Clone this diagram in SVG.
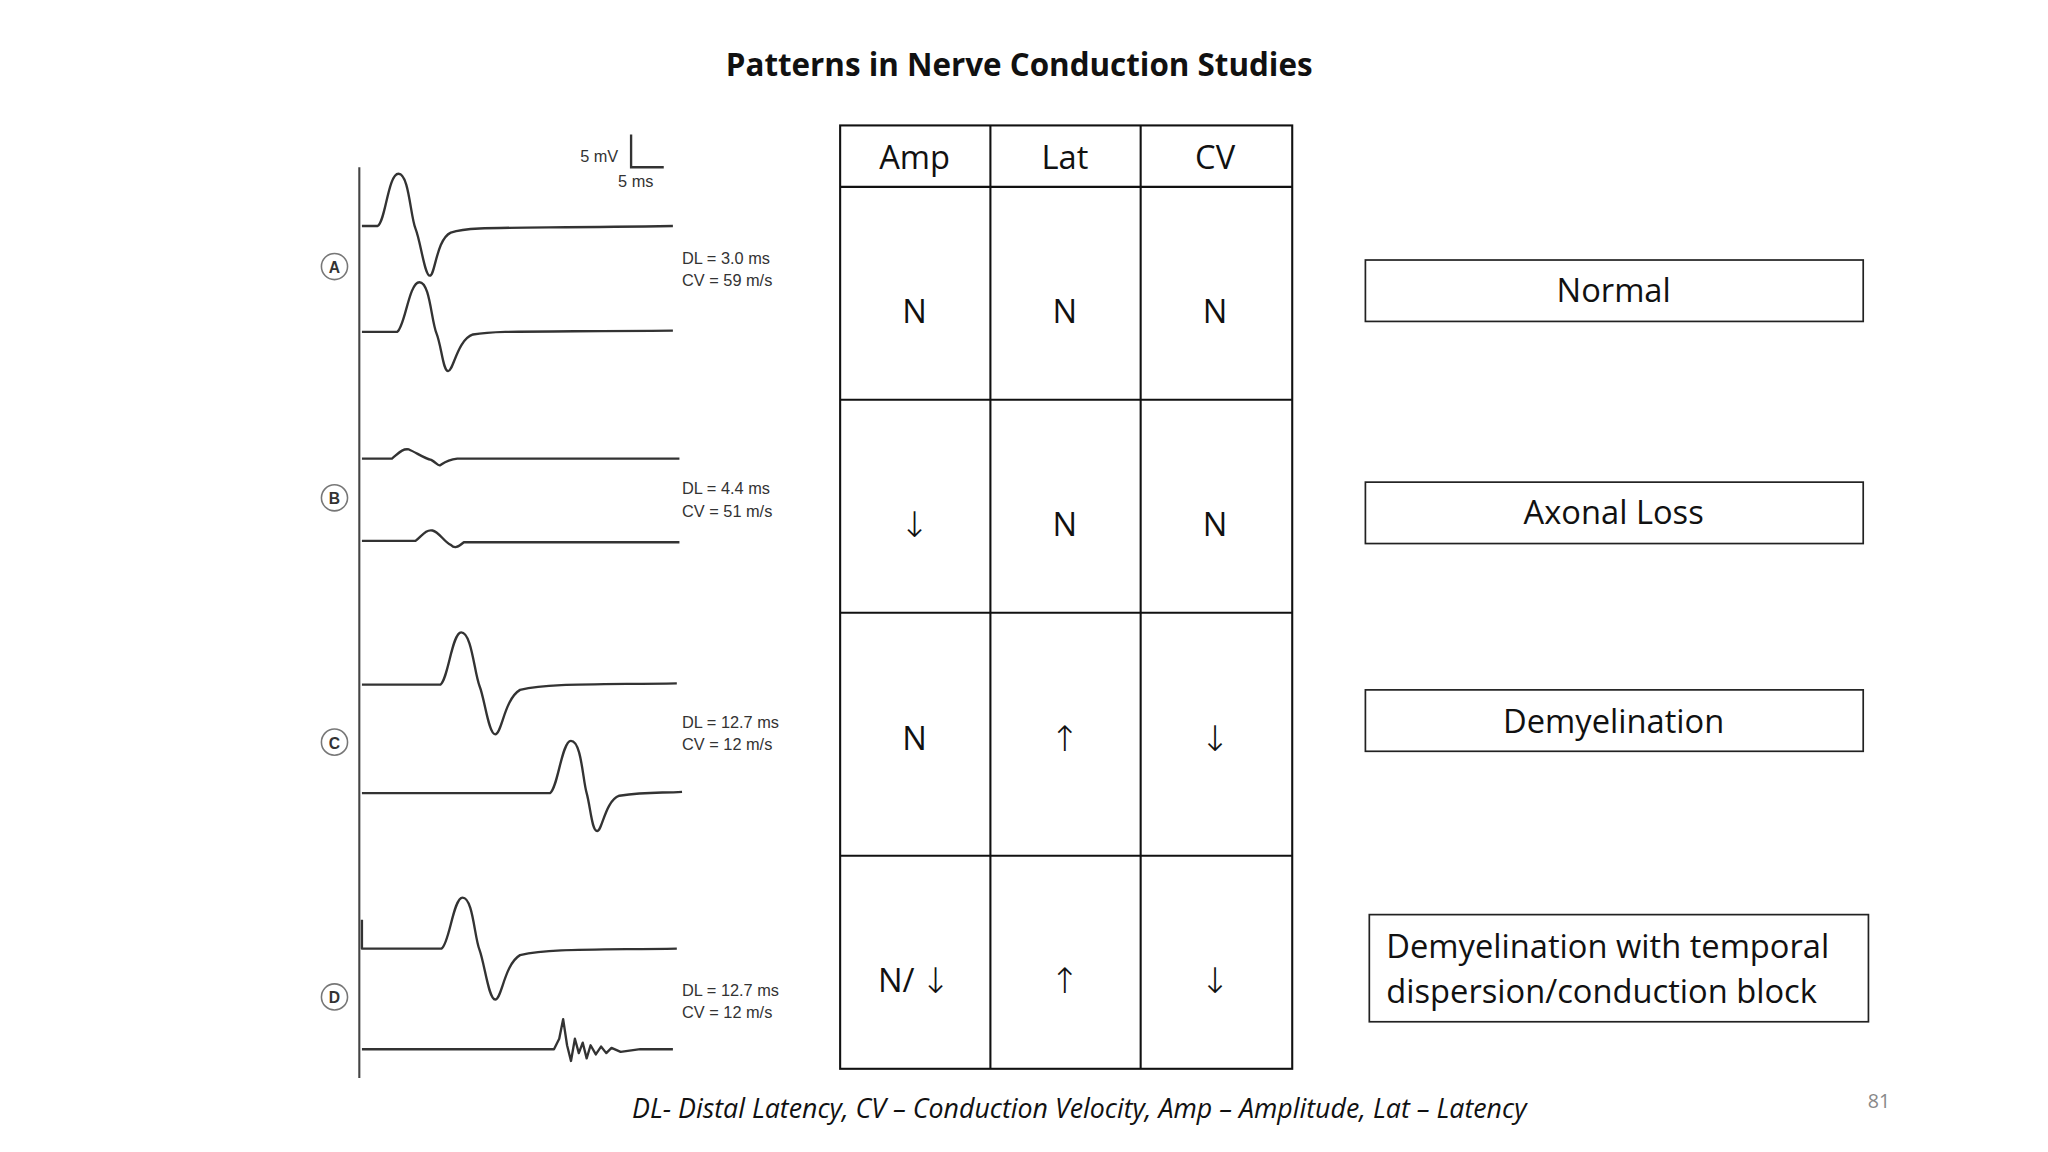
<svg xmlns="http://www.w3.org/2000/svg" width="2048" height="1152" viewBox="0 0 2048 1152">
<style>
.tr{fill:none;stroke:#333;stroke-width:1.8;stroke-linejoin:round}
.sm{font-family:"Liberation Sans",Arial,sans-serif;font-size:12.5px;fill:#333}
.cl{fill:#fff;stroke:#777;stroke-width:1.2}
.ct{font-family:"Liberation Sans",Arial,sans-serif;font-size:12px;font-weight:bold;fill:#333;text-anchor:middle}
.tb{font-family:"Open Sans","Liberation Sans",sans-serif;font-size:25px;fill:#111;text-anchor:middle}
.ar{font-family:"DejaVu Sans",sans-serif;font-size:27px;fill:#111;text-anchor:middle;font-weight:200}
.bx{fill:#fff;stroke:#222;stroke-width:1.3}
.gl{stroke:#111;stroke-width:1.6}
</style>
<rect width="2048" height="1152" fill="#fff"/>
<g transform="scale(1.3066)">
<text x="780" y="58" text-anchor="middle" font-family="Open Sans,Liberation Sans,sans-serif" font-weight="bold" font-size="24" fill="#111">Patterns in Nerve Conduction Studies</text>
<g id="waveforms">
<line x1="275" y1="128" x2="275" y2="825" stroke="#444" stroke-width="1.6"/>
<path d="M483 103 V128 H508" fill="none" stroke="#333" stroke-width="1.8"/>
<text x="444" y="124" class="sm">5 mV</text><text x="473" y="143" class="sm">5 ms</text>
<path class="tr" d="M277 173 H289 C295 170 297 133 305 133 C313 133 314 165 318 175 C322 185 325 211 329 211 C333 211 334 183 345 178 C360 173 380 175 515 173"/>
<path class="tr" d="M277 254 H304 C310 250 313 216 321 216 C329 216 330 245 334 255 C338 265 339 284 343 284 C347 284 350 260 362 256 C380 253 400 254 515 253"/>
<path class="tr" d="M277 351 H300 C305 347 308 343 313 344 C318 346 325 351 330 352 C334 354 335 357 337 356 C340 354 342 352 350 351 H520"/>
<path class="tr" d="M277 414 H318 C323 410 326 405 331 406 C336 407 340 415 345 417 C348 420 350 419 355 415 H520"/>
<path class="tr" d="M277 524 H337 C343 520 346 484 353 484 C361 484 363 515 367 525 C371 535 374 562 379 562 C384 562 386 535 398 528 C420 523 450 524 518 523"/>
<path class="tr" d="M277 607 H421 C427 603 430 567 437 567 C445 567 446 597 449 607 C452 618 453 636 457 636 C461 636 463 613 474 609 C495 606 505 607 522 606"/>
<path class="tr" d="M277 704 V726 H338 C344 722 347 687 354 687 C362 687 363 717 367 727 C371 738 374 765 379 765 C384 765 386 738 398 731 C420 726 450 727 518 726"/>
<path class="tr" d="M277 803 H424 L428 795 L431 780 L434 800 L437 812 L440 795 L443 806 L446 798 L449 810 L452 800 L456 807 L460 801 L464 806 L468 802 L475 805 L490 803 H515"/>
<text x="522" y="202" class="sm">DL = 3.0 ms</text><text x="522" y="219" class="sm">CV = 59 m/s</text>
<text x="522" y="378" class="sm">DL = 4.4 ms</text><text x="522" y="396" class="sm">CV = 51 m/s</text>
<text x="522" y="557" class="sm">DL = 12.7 ms</text><text x="522" y="574" class="sm">CV = 12 m/s</text>
<text x="522" y="762" class="sm">DL = 12.7 ms</text><text x="522" y="779" class="sm">CV = 12 m/s</text>
<circle class="cl" cx="256" cy="204" r="10"/><text x="256" y="209" class="ct">A</text>
<circle class="cl" cx="256" cy="381" r="10"/><text x="256" y="386" class="ct">B</text>
<circle class="cl" cx="256" cy="568" r="10"/><text x="256" y="573" class="ct">C</text>
<circle class="cl" cx="256" cy="763" r="10"/><text x="256" y="768" class="ct">D</text>
</g>
<g id="table">
<rect x="643" y="96" width="346" height="722" fill="none" class="gl"/>
<line class="gl" x1="758" y1="96" x2="758" y2="818"/><line class="gl" x1="873" y1="96" x2="873" y2="818"/>
<line class="gl" x1="643" y1="143" x2="989" y2="143"/><line class="gl" x1="643" y1="306" x2="989" y2="306"/>
<line class="gl" x1="643" y1="469" x2="989" y2="469"/><line class="gl" x1="643" y1="655" x2="989" y2="655"/>
<text x="700" y="129" class="tb">Amp</text><text x="815" y="129" class="tb">Lat</text><text x="930" y="129" class="tb">CV</text>
<text x="700" y="247" class="tb">N</text><text x="815" y="247" class="tb">N</text><text x="930" y="247" class="tb">N</text>
<text x="700" y="411" class="ar">↓</text><text x="815" y="410" class="tb">N</text><text x="930" y="410" class="tb">N</text>
<text x="700" y="574" class="tb">N</text><text x="815" y="575" class="ar">↑</text><text x="930" y="575" class="ar">↓</text>
<text x="686" y="759" class="tb">N/</text><text x="716" y="760" class="ar">↓</text><text x="815" y="760" class="ar">↑</text><text x="930" y="760" class="ar">↓</text>
</g>
<g id="normal"><rect class="bx" x="1045" y="199" width="381" height="47"/><text x="1235" y="231" class="tb">Normal</text></g>
<g id="axonal"><rect class="bx" x="1045" y="369" width="381" height="47"/><text x="1235" y="401" class="tb">Axonal Loss</text></g>
<g id="demyel"><rect class="bx" x="1045" y="528" width="381" height="47"/><text x="1235" y="561" class="tb">Demyelination</text></g>
<g id="demyel-td"><rect class="bx" x="1048" y="700" width="382" height="82"/>
<text x="1061" y="733" class="tb" style="text-anchor:start">Demyelination with temporal</text>
<text x="1061" y="768" class="tb" style="text-anchor:start">dispersion/conduction block</text></g>
<text x="826" y="856" text-anchor="middle" font-family="Open Sans,Liberation Sans,sans-serif" font-style="italic" font-size="20.5" fill="#111">DL- Distal Latency, CV – Conduction Velocity, Amp – Amplitude, Lat – Latency</text>
<text x="1438" y="848" text-anchor="middle" font-family="Open Sans,Liberation Sans,sans-serif" font-size="15" fill="#888">81</text>
</g>
</svg>
